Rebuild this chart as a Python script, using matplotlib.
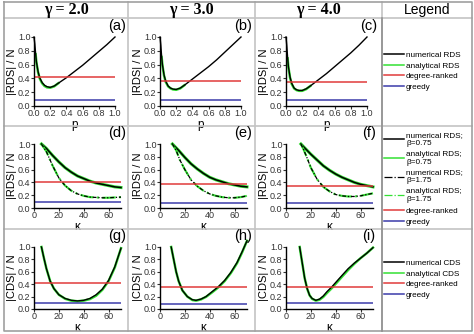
import matplotlib
matplotlib.use("Agg")
import matplotlib.pyplot as plt
from matplotlib.lines import Line2D
import numpy as np

W, H = 474, 334

# ---- data ----
gammas = ['2.0', '3.0', '4.0']
red_rds = [0.42, 0.36, 0.35]
blue_rds = [0.09, 0.08, 0.08]
red_kap = [0.41, 0.37, 0.35]
blue_kap = [0.09, 0.08, 0.08]
red_cds = [0.42, 0.36, 0.36]
blue_cds = [0.09, 0.08, 0.09]

# row 1: |RDS|/N vs p
p_vals = [0.0, 0.01, 0.02, 0.03, 0.05, 0.07, 0.1, 0.13, 0.16, 0.2, 0.25, 0.3, 0.4, 0.5, 0.6, 0.7, 0.8, 0.9, 1.0]
rds_p = [
    [1.0, 0.9, 0.76, 0.64, 0.5, 0.41, 0.34, 0.3, 0.28, 0.27, 0.29, 0.33, 0.41, 0.5, 0.59, 0.69, 0.79, 0.89, 1.0],
    [1.0, 0.88, 0.72, 0.6, 0.45, 0.36, 0.29, 0.26, 0.245, 0.24, 0.26, 0.3, 0.39, 0.48, 0.57, 0.67, 0.78, 0.89, 1.0],
    [1.0, 0.87, 0.7, 0.57, 0.42, 0.33, 0.26, 0.235, 0.225, 0.225, 0.25, 0.29, 0.38, 0.47, 0.57, 0.67, 0.77, 0.88, 1.0],
]
p_an = [0.02, 0.03, 0.05, 0.07, 0.1, 0.13, 0.16, 0.2, 0.25, 0.3]
rds_p_an = [
    [0.75, 0.63, 0.49, 0.4, 0.33, 0.29, 0.27, 0.265, 0.285, 0.33],
    [0.71, 0.59, 0.44, 0.35, 0.285, 0.255, 0.24, 0.235, 0.255, 0.3],
    [0.69, 0.56, 0.41, 0.32, 0.255, 0.23, 0.22, 0.22, 0.245, 0.29],
]

# row 2: |RDS|/N vs kappa, beta = 0.75 (solid) and 1.75 (dash-dot)
kap_b1 = [
    [6, 10, 15, 20, 25, 30, 35, 40, 45, 50, 55, 60, 65, 70],
    [10, 15, 20, 25, 30, 35, 40, 45, 50, 55, 60, 65, 70],
    [12, 15, 20, 25, 30, 35, 40, 45, 50, 55, 60, 65, 70],
]
rds_b1 = [
    [1.0, 0.93, 0.82, 0.72, 0.63, 0.56, 0.5, 0.46, 0.42, 0.39, 0.37, 0.35, 0.33, 0.32],
    [1.0, 0.9, 0.79, 0.69, 0.61, 0.54, 0.48, 0.44, 0.41, 0.38, 0.36, 0.34, 0.33],
    [1.0, 0.94, 0.84, 0.75, 0.66, 0.59, 0.53, 0.48, 0.44, 0.4, 0.37, 0.35, 0.33],
]
kap_b2 = [
    [6, 10, 15, 20, 25, 30, 35, 40, 45, 50, 55, 60, 65, 70],
    [10, 13, 16, 20, 25, 30, 35, 40, 45, 50, 55, 60, 65, 70],
    [12, 14, 17, 20, 25, 30, 35, 40, 45, 50, 55, 60, 65, 70],
]
rds_b2 = [
    [1.0, 0.88, 0.66, 0.47, 0.35, 0.27, 0.22, 0.19, 0.17, 0.165, 0.16, 0.16, 0.165, 0.17],
    [1.0, 0.9, 0.75, 0.6, 0.44, 0.34, 0.27, 0.22, 0.19, 0.17, 0.16, 0.16, 0.17, 0.19],
    [1.0, 0.92, 0.78, 0.63, 0.45, 0.33, 0.26, 0.21, 0.19, 0.18, 0.18, 0.19, 0.21, 0.23],
]

# row 3: |CDS|/N vs kappa
kap_cds = [
    [6, 8, 10, 13, 16, 20, 25, 30, 35, 40, 45, 50, 55, 60, 65, 70],
    [9, 11, 13, 15, 18, 22, 26, 29, 33, 37, 42, 47, 52, 57, 62, 66, 70],
    [11, 13, 15, 17, 19, 21, 24, 27, 30, 33, 37, 41, 45, 50, 55, 60, 65, 70],
]
cds = [
    [1.0, 0.82, 0.65, 0.45, 0.33, 0.23, 0.17, 0.14, 0.13, 0.14, 0.17, 0.23, 0.32, 0.46, 0.68, 0.98],
    [1.0, 0.8, 0.6, 0.45, 0.3, 0.2, 0.15, 0.14, 0.16, 0.2, 0.28, 0.36, 0.46, 0.59, 0.75, 0.92, 1.1],
    [1.0, 0.75, 0.5, 0.33, 0.22, 0.17, 0.14, 0.16, 0.21, 0.28, 0.36, 0.45, 0.54, 0.65, 0.74, 0.82, 0.9, 0.99],
]
cds_an = [
    [1.0, 0.82, 0.65, 0.45, 0.33, 0.23, 0.165, 0.135, 0.125, 0.135, 0.16, 0.215, 0.31, 0.45, 0.67, 0.98],
    [1.0, 0.8, 0.6, 0.45, 0.3, 0.2, 0.145, 0.135, 0.155, 0.195, 0.27, 0.35, 0.45, 0.58, 0.74, 0.91, 1.1],
    [1.0, 0.75, 0.5, 0.33, 0.22, 0.165, 0.135, 0.15, 0.195, 0.26, 0.34, 0.43, 0.52, 0.63, 0.73, 0.82, 0.9, 0.99],
]

panel_tags = [['(a)', '(b)', '(c)'], ['(d)', '(e)', '(f)'], ['(g)', '(h)', '(i)']]

BLACK = 'black'
GREEN = '#33e033'
RED = '#e03a3a'
BLUE = '#3a3aaa'

plt.rcParams['font.family'] = ['Liberation Sans', 'DejaVu Sans']

fig = plt.figure(figsize=(W / 100, H / 100), dpi=100)
fig.patch.set_facecolor('white')


def px_axes(x0, y0, x1, y1):
    return fig.add_axes([x0 / W, 1 - y1 / H, (x1 - x0) / W, (y1 - y0) / H])


def fig_line(xs, ys, color='#a8a8a8', lw=1.0):
    fig.add_artist(Line2D([x / W for x in xs], [1 - y / H for y in ys],
                          color=color, lw=lw, transform=fig.transFigure))


# ---- table frame ----
col_x = [4, 128, 255, 382, 472]
row_y = [2, 18, 126, 229, 331]
for x in col_x[1:-1]:
    fig_line([x, x], [row_y[0], row_y[-1]], color='#c4c4c4', lw=1.2)
for y in row_y[1:-1]:
    fig_line([col_x[0], col_x[-1]], [y, y], color='#c4c4c4', lw=1.2)
fig_line([col_x[0], col_x[-1], col_x[-1], col_x[0], col_x[0]],
         [row_y[0], row_y[0], row_y[-1], row_y[-1], row_y[0]], color='#a0a0a0', lw=1.2)
fig_line([col_x[3], col_x[3]], [row_y[1], row_y[-1]], color='#909090', lw=1.2)

for j, g in enumerate(gammas):
    cx = (col_x[j] + col_x[j + 1]) / 2
    fig.text(cx / W, 1 - 10.5 / H, '\u03b3 = ' + g, ha='center', va='center',
             fontsize=11.5, fontweight='bold', family=['Liberation Serif', 'DejaVu Serif'])
fig.text(427 / W, 1 - 10 / H, 'Legend', ha='center', va='center', fontsize=10)


def style(ax, xlim, xticks, ylabel, xlabel):
    ax.set_xlim(*xlim)
    ax.set_ylim(0, 1.0)
    ax.set_xticks(xticks)
    ax.set_yticks([0.0, 0.2, 0.4, 0.6, 0.8, 1.0])
    ax.set_yticklabels(['0.0', '0.2', '0.4', '0.6', '0.8', '1.0'])
    for s in ['top', 'right']:
        ax.spines[s].set_visible(False)
    for s in ['left', 'bottom']:
        ax.spines[s].set_linewidth(1.0)
    ax.tick_params(labelsize=6.5, length=2, width=0.8, pad=0.5, colors='#333333')
    ax.set_ylabel(ylabel, fontsize=8, labelpad=1)
    ax.set_xlabel(xlabel, fontsize=8.5, labelpad=0.5)
    ax.patch.set_alpha(0)


col_off = [0, 126, 252]
for j in range(3):
    o = col_off[j]
    # row 1
    ax = px_axes(34 + o, 37, 115 + o, 106)
    ax.plot(p_an, rds_p_an[j], color=GREEN, lw=1.8, clip_on=False)
    ax.plot(p_vals, rds_p[j], color=BLACK, lw=1.0, clip_on=False)
    ax.axhline(red_rds[j], color=RED, lw=1.1)
    ax.axhline(blue_rds[j], color=BLUE, lw=1.1)
    style(ax, (0, 1.0), [0.0, 0.2, 0.4, 0.6, 0.8, 1.0], '|RDS| / N', 'p')
    ax.set_xticklabels(['0.0', '0.2', '0.4', '0.6', '0.8', '1.0'])

    # row 2
    ax = px_axes(34 + o, 144, 121 + o, 208)
    ax.plot(kap_b1[j], rds_b1[j], color=GREEN, lw=2.2, clip_on=False)
    ax.plot(kap_b1[j], rds_b1[j], color=BLACK, lw=1.1, clip_on=False)
    ax.plot(kap_b2[j], rds_b2[j], color=GREEN, lw=1.5, ls='-.', clip_on=False)
    ax.plot(kap_b2[j], rds_b2[j], color=BLACK, lw=0.9, ls=(0, (3, 1.5, 1, 1.5)), clip_on=False)
    ax.axhline(red_kap[j], color=RED, lw=1.1)
    ax.axhline(blue_kap[j], color=BLUE, lw=1.1)
    style(ax, (0, 70), [0, 20, 40, 60], '|RDS| / N', '\u03ba')

    # row 3
    ax = px_axes(34 + o, 247, 121 + o, 309)
    ax.plot(kap_cds[j], cds_an[j], color=GREEN, lw=1.8, clip_on=False)
    ax.plot(kap_cds[j], cds[j], color=BLACK, lw=1.0, clip_on=False)
    ax.axhline(red_cds[j], color=RED, lw=1.1)
    ax.axhline(blue_cds[j], color=BLUE, lw=1.1)
    style(ax, (0, 70), [0, 20, 40, 60], '|CDS| / N', '\u03ba')

    for i, ty in enumerate([26, 133, 236]):
        fig.text((117 + o) / W, 1 - ty / H, panel_tags[i][j], ha='center', va='center', fontsize=10.5)

# ---- legends ----
leg_kw = dict(loc='center left', frameon=False, fontsize=5.9, handlelength=2.4,
              handletextpad=0.3, borderpad=0, borderaxespad=0)

leg1 = [Line2D([], [], color=BLACK, lw=1.1), Line2D([], [], color=GREEN, lw=1.1),
        Line2D([], [], color=RED, lw=1.1), Line2D([], [], color=BLUE, lw=1.1)]
fig.legend(leg1, ['numerical RDS', 'analytical RDS', 'degree-ranked', 'greedy'],
           bbox_to_anchor=(384 / W, 1 - 71 / H), labelspacing=0.35, **leg_kw)

leg2 = [Line2D([], [], color=BLACK, lw=1.1), Line2D([], [], color=GREEN, lw=1.1),
        Line2D([], [], color=BLACK, lw=0.9, ls='-.'), Line2D([], [], color=GREEN, lw=0.9, ls='-.'),
        Line2D([], [], color=RED, lw=1.1), Line2D([], [], color=BLUE, lw=1.1)]
fig.legend(leg2, ['numerical RDS;\n\u03b2=0.75', 'analytical RDS;\n\u03b2=0.75',
                  'numerical RDS;\n\u03b2=1.75', 'analytical RDS;\n\u03b2=1.75',
                  'degree-ranked', 'greedy'],
           bbox_to_anchor=(384 / W, 1 - 179 / H), labelspacing=0.45, **leg_kw)

leg3 = [Line2D([], [], color=BLACK, lw=1.1), Line2D([], [], color=GREEN, lw=1.1),
        Line2D([], [], color=RED, lw=1.1), Line2D([], [], color=BLUE, lw=1.1)]
fig.legend(leg3, ['numerical CDS', 'analytical CDS', 'degree-ranked', 'greedy'],
           bbox_to_anchor=(384 / W, 1 - 279 / H), labelspacing=0.35, **leg_kw)

fig.savefig('out.png', dpi=100)
